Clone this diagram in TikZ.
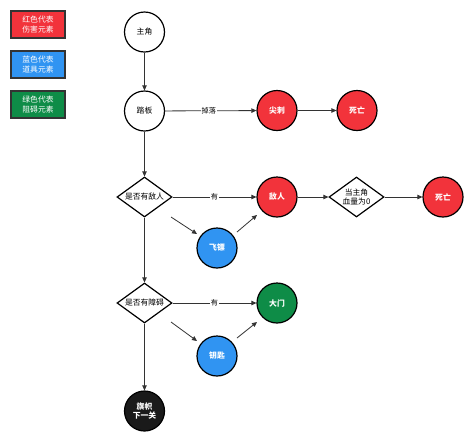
\documentclass[tikz,border=0pt]{standalone}
\usepackage{fontspec}
\setmainfont{Noto Sans CJK SC}
\usetikzlibrary{shapes.geometric,arrows.meta}
\definecolor{cred}{HTML}{F2333B}
\definecolor{cblue}{HTML}{3094F2}
\definecolor{cgreen}{HTML}{0E8C47}
\definecolor{cblack}{HTML}{1A1A1A}
\tikzset{
  x=1pt,y=-1pt,
  every node/.style={font=\fontsize{7.8}{9.5}\selectfont, align=center, inner sep=0pt},
  circ/.style={circle, draw=black, line width=1.2pt, minimum size=40pt, fill=white},
  redc/.style={circ, fill=cred, text=white, font=\fontsize{7.8}{9.5}\selectfont\bfseries},
  bluec/.style={circ, fill=cblue, text=white, font=\fontsize{7.8}{9.5}\selectfont\bfseries},
  greenc/.style={circ, fill=cgreen, text=white, font=\fontsize{7.8}{9.5}\selectfont\bfseries},
  blackc/.style={circ, fill=cblack, text=white, font=\fontsize{7.8}{9.5}\selectfont\bfseries},
  dia/.style={diamond, draw=black, line width=1.2pt, fill=white, minimum width=55pt, minimum height=40pt, aspect=1.375},
  legend/.style={rectangle, draw=black!80, line width=1.2pt, minimum width=54pt, minimum height=27pt, text=white, font=\fontsize{7.8}{9.5}\selectfont},
  arr/.style={draw=black!80, line width=0.8pt, -{Triangle[length=5pt,width=4.5pt]}},
  lbl/.style={fill=white, inner xsep=1pt, inner ysep=1pt, font=\fontsize{7.2}{8}\selectfont},
}
\begin{document}
\begin{tikzpicture}
\useasboundingbox (0,0) rectangle (474,440);
% legend
\node[legend, fill=cred] (lr) at (38,24.5) {红色代表\\伤害元素};
\node[legend, fill=cblue] (lb) at (38,64.5) {蓝色代表\\道具元素};
\node[legend, fill=cgreen] (lg) at (38,104.5) {绿色代表\\阻碍元素};
% nodes
\node[circ] (zj) at (144.5,32) {主角};
\node[circ] (tb) at (144.5,111) {踏板};
\node[redc] (jc) at (277,110.5) {尖刺};
\node[redc] (sw1) at (357,110.5) {死亡};
\node[dia] (d1) at (144.5,197) {是否有敌人};
\node[redc] (dr) at (277,197) {敌人};
\node[dia] (d2) at (356.5,197) {当主角\\血量为0};
\node[redc] (sw2) at (443,197) {死亡};
\node[bluec] (fb) at (217,248) {飞镖};
\node[dia] (d3) at (144.5,303) {是否有障碍};
\node[greenc] (dm) at (277,303) {大门};
\node[bluec] (ys) at (217,356) {钥匙};
\node[blackc] (qz) at (144.5,411) {旗帜\\下一关};
% free ends of floating arrows
\coordinate (a1s) at (171,217);
\coordinate (a1e) at (197,234);
\coordinate (a2s) at (237,232);
\coordinate (a2e) at (257,215);
\coordinate (a3s) at (171,322);
\coordinate (a3e) at (197,341);
\coordinate (a4s) at (237,338);
\coordinate (a4e) at (257,322);
% edges
\draw[arr] (zj) -- (tb);
\draw[arr] (tb) -- node[lbl, pos=0.48] {掉落} (jc);
\draw[arr] (jc) -- (sw1);
\draw[arr] (tb) -- (d1);
\draw[arr] (d1) -- node[lbl, pos=0.5] {有} (dr);
\draw[arr] (dr) -- (d2);
\draw[arr] (d2) -- (sw2);
\draw[arr] (d1) -- (d3);
\draw[arr] (d3) -- node[lbl, pos=0.5] {有} (dm);
\draw[arr] (d3) -- (qz);
\draw[arr] (a1s) -- (a1e);
\draw[arr] (a2s) -- (a2e);
\draw[arr] (a3s) -- (a3e);
\draw[arr] (a4s) -- (a4e);
\end{tikzpicture}
\end{document}
